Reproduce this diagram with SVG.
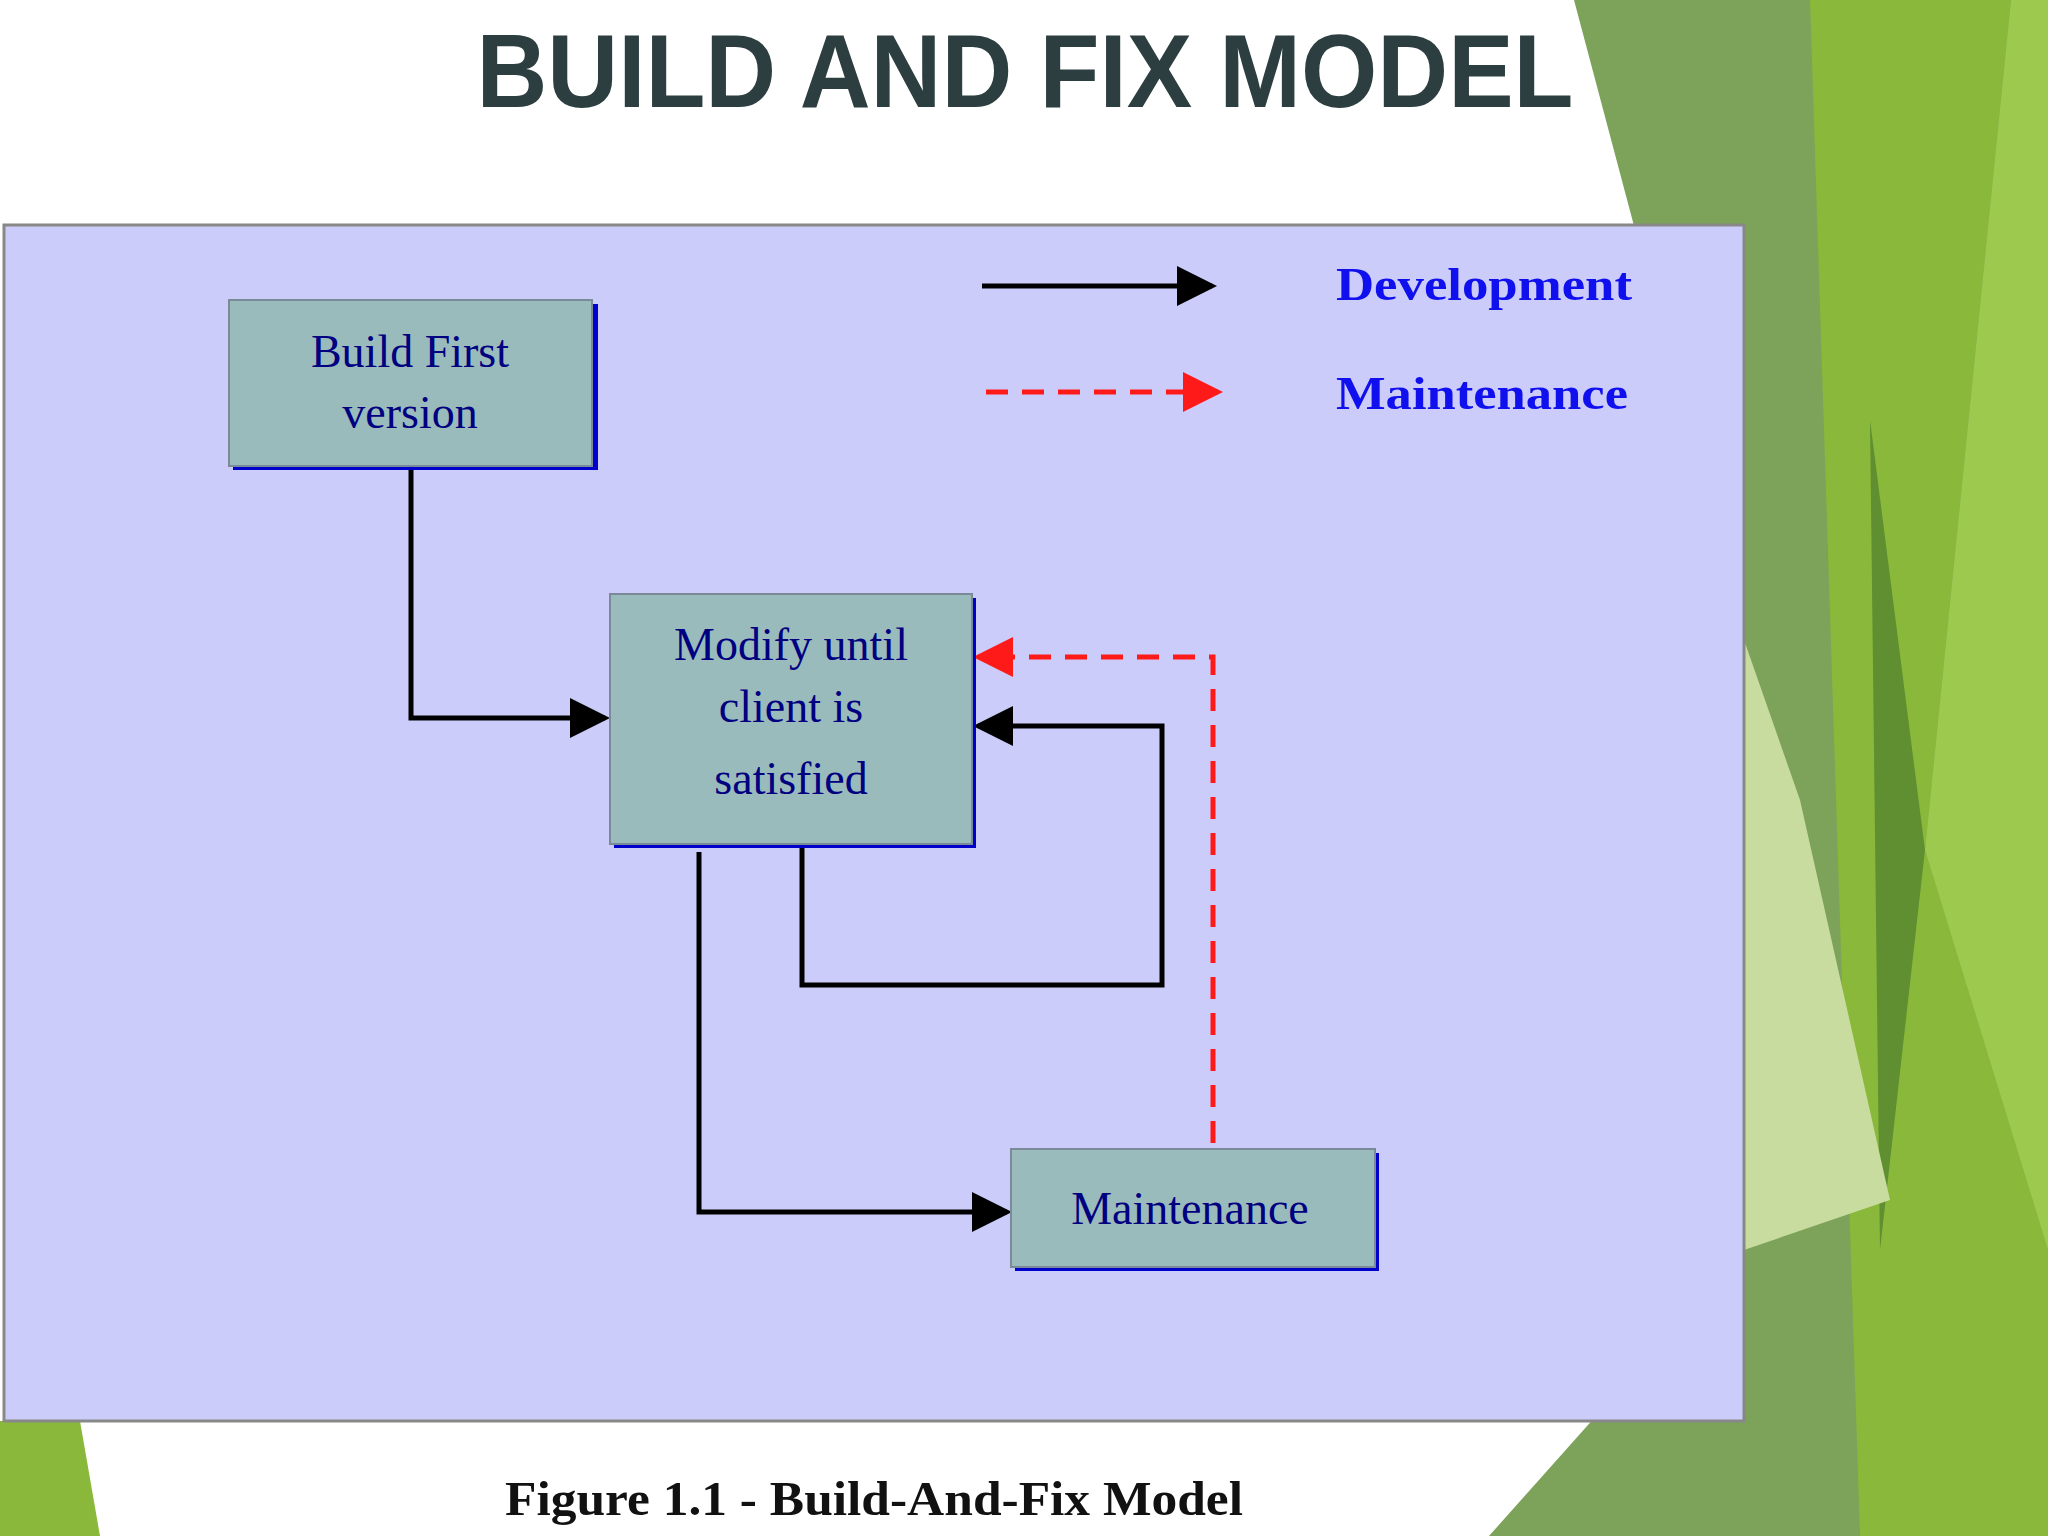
<svg xmlns="http://www.w3.org/2000/svg" width="2048" height="1536" viewBox="0 0 2048 1536">
<style>
.node{fill:#99bbbb;stroke:#7a8a99;stroke-width:2}
.shadow{fill:#0000cc}
.nt{font-family:"Liberation Serif",serif;font-size:46px;fill:#000080;text-anchor:middle}
.dev{stroke:#000;stroke-width:5;fill:none}
.mnt{stroke:#ff1a1a;stroke-width:5;fill:none;stroke-dasharray:22 14}
.leg{font-family:"Liberation Serif",serif;font-weight:bold;font-size:46px;fill:#1010ee}
</style>
<defs>
<marker id="ab" markerWidth="8" markerHeight="8" refX="7" refY="4" orient="auto" markerUnits="strokeWidth"><path d="M0,0L8,4L0,8z" fill="#000"/></marker>
<marker id="ar" markerWidth="8" markerHeight="8" refX="7" refY="4" orient="auto" markerUnits="strokeWidth"><path d="M0,0L8,4L0,8z" fill="#ff1a1a"/></marker>
</defs>
<rect width="2048" height="1536" fill="#fff"/>
<g id="background">
<polygon points="1574,0 2048,0 2048,1536 1489,1536 1744,1250 1744,640" fill="#7da25a"/>
<polygon points="1810,0 2011,0 1925,850 2048,1250 2048,1536 1860,1536" fill="#8ab83a"/>
<polygon points="2011,0 2048,0 2048,1250 1925,850" fill="#9dc94e"/>
<polygon points="1870,420 1925,850 1880,1250" fill="#5f8f30"/>
<polygon points="1744,640 1800,800 1890,1200 1744,1250" fill="#c8dca0"/>
<polygon points="0,1421 80,1421 100,1536 0,1536" fill="#8ab83a"/>
</g>
<text x="1025" y="107" text-anchor="middle" font-family="'Liberation Sans',sans-serif" font-weight="bold" font-size="104" fill="#2d3e40" textLength="1097" lengthAdjust="spacingAndGlyphs">BUILD AND FIX MODEL</text>
<rect x="4" y="225" width="1740" height="1196" fill="#ccccfa" stroke="#888" stroke-width="3"/>
<g id="legend">
<line class="dev" x1="982" y1="286" x2="1212" y2="286" marker-end="url(#ab)"/>
<line class="mnt" x1="986" y1="392" x2="1218" y2="392" marker-end="url(#ar)"/>
<text class="leg" x="1336" y="300" textLength="296" lengthAdjust="spacingAndGlyphs">Development</text>
<text class="leg" x="1336" y="409" textLength="292" lengthAdjust="spacingAndGlyphs">Maintenance</text>
</g>
<g id="connectors">
<polyline class="dev" points="411,466 411,718 605,718" marker-end="url(#ab)"/>
<polyline class="dev" points="802,846 802,985 1162,985 1162,726 978,726" marker-end="url(#ab)"/>
<polyline class="dev" points="699,852 699,1212 1007,1212" marker-end="url(#ab)"/>
<polyline class="mnt" points="1213,1143 1213,657 978,657" marker-end="url(#ar)"/>
</g>
<g id="build">
<rect class="shadow" x="233" y="304" width="365" height="166"/>
<rect class="node" x="229" y="300" width="363" height="166"/>
<text class="nt" x="410" y="367">Build First</text>
<text class="nt" x="410" y="428">version</text>
</g>
<g id="modify">
<rect class="shadow" x="614" y="598" width="362" height="250"/>
<rect class="node" x="610" y="594" width="362" height="250"/>
<text class="nt" x="791" y="660">Modify until</text>
<text class="nt" x="791" y="722">client is</text>
<text class="nt" x="791" y="794">satisfied</text>
</g>
<g id="maintenance">
<rect class="shadow" x="1015" y="1153" width="364" height="118"/>
<rect class="node" x="1011" y="1149" width="364" height="118"/>
<text class="nt" x="1190" y="1224">Maintenance</text>
</g>
<text x="874" y="1515" text-anchor="middle" font-family="'Liberation Serif',serif" font-weight="bold" font-size="48" fill="#111" textLength="738" lengthAdjust="spacingAndGlyphs">Figure 1.1 - Build-And-Fix Model</text>
</svg>
